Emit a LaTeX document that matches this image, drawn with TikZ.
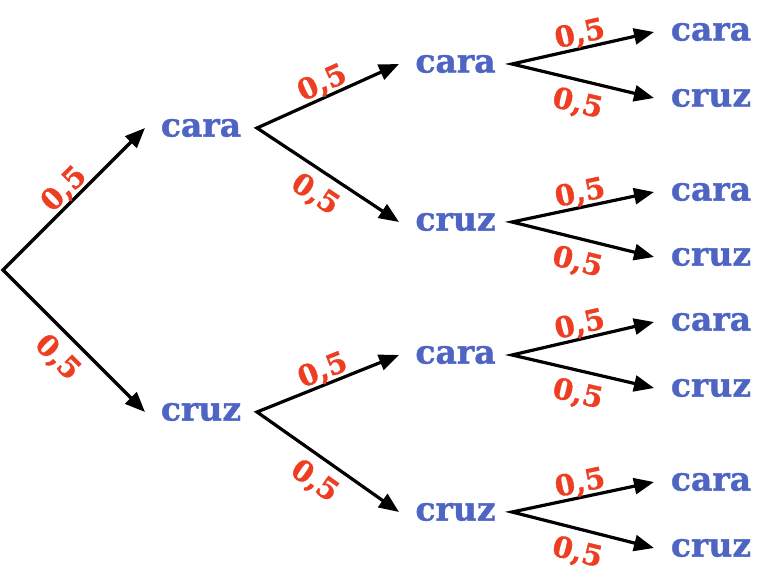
\documentclass[tikz,border=0pt]{standalone}
\usepackage{fontspec}
\usetikzlibrary{arrows.meta}
\newfontfamily\slab[BoldFeatures={FakeBold=1.2}]{DejaVu Serif}
\definecolor{cblue}{RGB}{79,101,196}
\definecolor{cred}{RGB}{238,62,34}
\begin{document}
\begin{tikzpicture}[x=1pt,y=-1pt,
  word/.style={font=\slab\bfseries\fontsize{33}{33}\selectfont, text=cblue,
    inner sep=0pt, outer sep=0pt, text height=17.1pt, text depth=0pt},
  lab/.style={font=\slab\bfseries\fontsize{29}{29}\selectfont, text=cred,
    inner sep=0pt, text height=21pt, text depth=0pt, sloped, midway},
  lup/.style={lab, above=5pt},
  ldn/.style={lab, below=11pt},
  fork/.style={{Triangle[length=20pt,width=16pt]}-{Triangle[length=20pt,width=16pt]},
    line width=3.2pt, line join=miter, black}]
\useasboundingbox (0,0) rectangle (768,578);
\coordinate (r) at (3,270);
% level 1
\node[word, minimum width=112pt] (a) at (201,128) {cara};
\node[word, minimum width=112pt] (b) at (201,412) {cruz};
% level 2
\node[word, minimum width=113pt] (aa) at (455.5,64) {cara};
\node[word, minimum width=113pt] (ab) at (455.5,222) {cruz};
\node[word, minimum width=113pt] (ba) at (455.5,355) {cara};
\node[word, minimum width=113pt] (bb) at (455.5,512) {cruz};
% level 3
\node[word, minimum width=114pt] (aaa) at (711,32) {cara};
\node[word, minimum width=114pt] (aab) at (711,98) {cruz};
\node[word, minimum width=114pt] (aba) at (711,192) {cara};
\node[word, minimum width=114pt] (abb) at (711,257) {cruz};
\node[word, minimum width=114pt] (baa) at (711,322) {cara};
\node[word, minimum width=114pt] (bab) at (711,388) {cruz};
\node[word, minimum width=114pt] (bba) at (711,482) {cara};
\node[word, minimum width=114pt] (bbb) at (711,548) {cruz};
% forks
\draw[fork] (a.west) -- (r) -- (b.west);
\draw[fork] (aa.west) -- (a.east) -- (ab.west);
\draw[fork] (ba.west) -- (b.east) -- (bb.west);
\draw[fork] (aaa.west) -- (aa.east) -- (aab.west);
\draw[fork] (aba.west) -- (ab.east) -- (abb.west);
\draw[fork] (baa.west) -- (ba.east) -- (bab.west);
\draw[fork] (bba.west) -- (bb.east) -- (bbb.west);
% labels
\path (r) -- node[lup] {0,5} (a.west);
\path (r) -- node[ldn] {0,5} (b.west);
\path (a.east) -- node[lup] {0,5} (aa.west);
\path (a.east) -- node[ldn] {0,5} (ab.west);
\path (b.east) -- node[lup] {0,5} (ba.west);
\path (b.east) -- node[ldn] {0,5} (bb.west);
\path (aa.east) -- node[lup] {0,5} (aaa.west);
\path (aa.east) -- node[ldn] {0,5} (aab.west);
\path (ab.east) -- node[lup] {0,5} (aba.west);
\path (ab.east) -- node[ldn] {0,5} (abb.west);
\path (ba.east) -- node[lup] {0,5} (baa.west);
\path (ba.east) -- node[ldn] {0,5} (bab.west);
\path (bb.east) -- node[lup] {0,5} (bba.west);
\path (bb.east) -- node[ldn] {0,5} (bbb.west);
\end{tikzpicture}
\end{document}
